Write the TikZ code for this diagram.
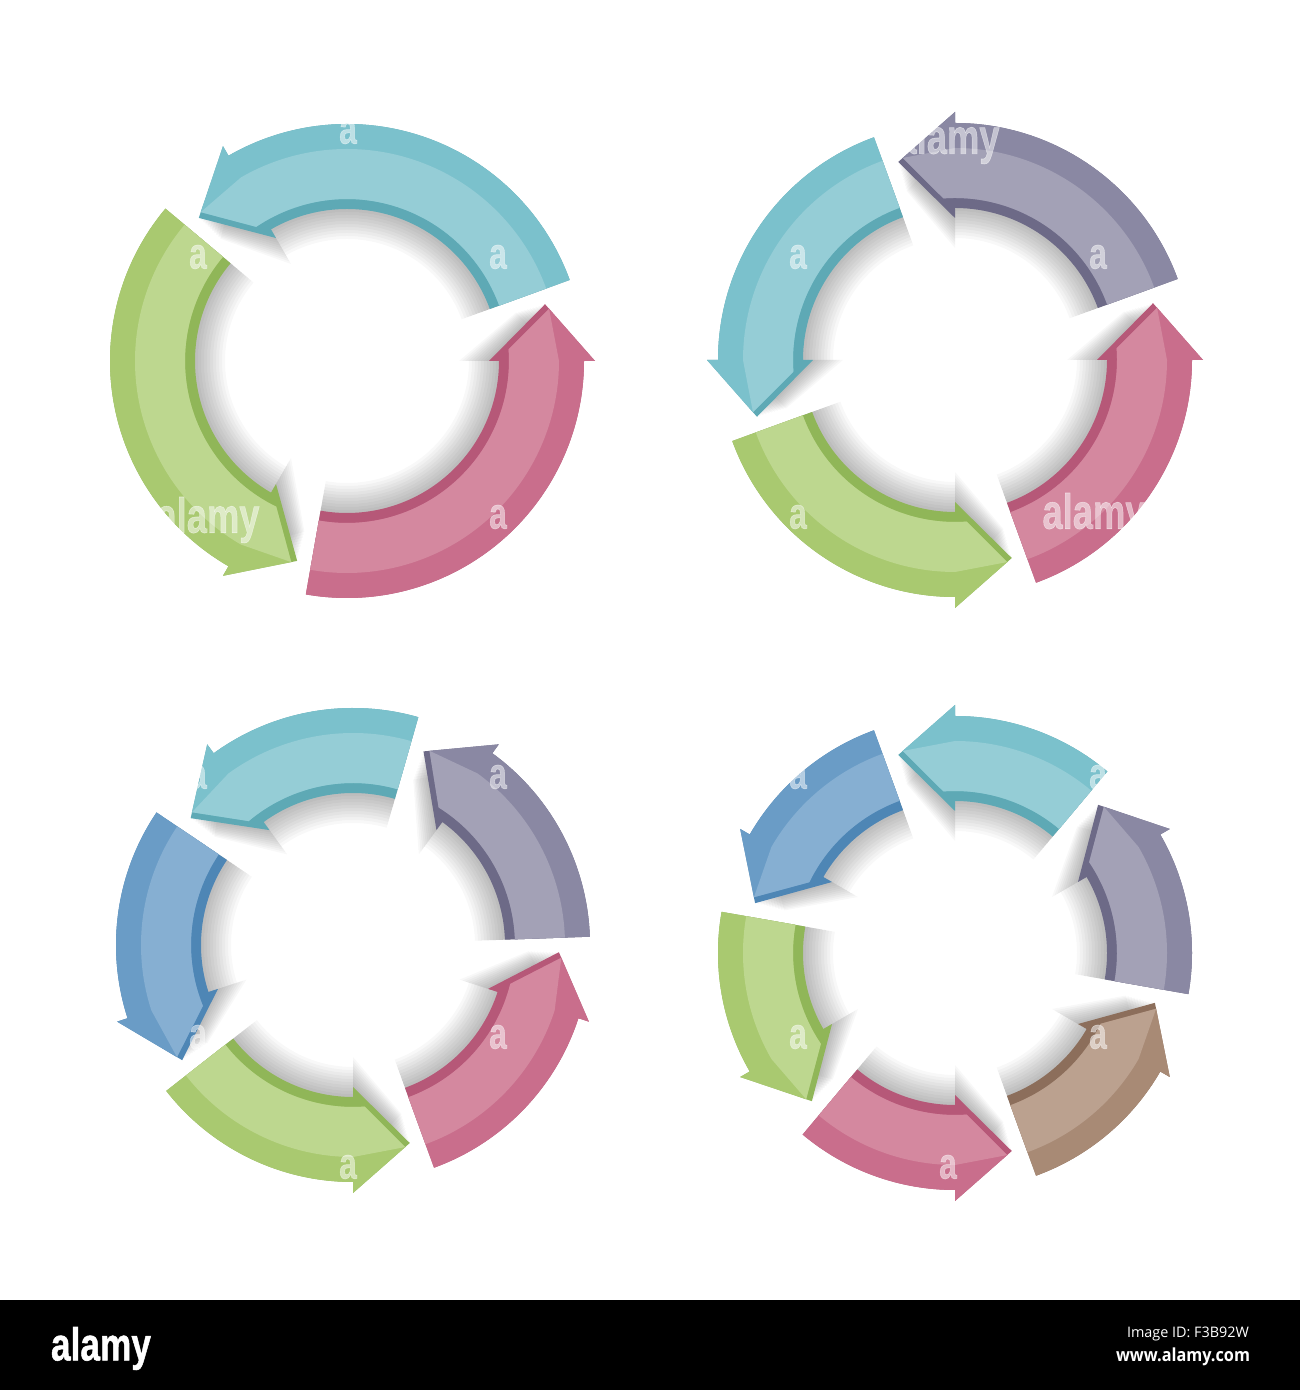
\documentclass[tikz,border=0pt]{standalone}
\usepackage{fontspec}
\setmainfont{Liberation Sans}
\newfontfamily\osans{Open Sans}
\newfontfamily\heavy[UprightFont={* Bold},FakeBold=1.2]{Liberation Sans}
\usepackage{graphicx}
\definecolor{cyS}{HTML}{5EA9B5}
\definecolor{cyB}{HTML}{7BC1CC}
\definecolor{cyL}{HTML}{95CDD6}
\definecolor{pkS}{HTML}{B65878}
\definecolor{pkB}{HTML}{C96E8C}
\definecolor{pkL}{HTML}{D4889F}
\definecolor{grS}{HTML}{90B658}
\definecolor{grB}{HTML}{A9C970}
\definecolor{grL}{HTML}{BDD78F}
\definecolor{puS}{HTML}{6D6A87}
\definecolor{puB}{HTML}{8A88A3}
\definecolor{puL}{HTML}{A3A1B6}
\definecolor{blS}{HTML}{4E86B5}
\definecolor{blB}{HTML}{6A9CC6}
\definecolor{blL}{HTML}{86AFD2}
\definecolor{brS}{HTML}{8C6E5B}
\definecolor{brB}{HTML}{A88A75}
\definecolor{brL}{HTML}{BBA18F}
\def\rIn{152}\def\rOut{237}\def\rIb{142}\def\rOb{248}\def\rTip{206}\def\rBand{212}\def\rFace{162}
% soft shadow cast toward the centre
\newcommand\ringshadow[3]{%
 \begin{scope}[shift={#1}]
 \foreach \k in {1,...,10}{%
  \fill[black,fill opacity=0.028] ({#2}:{\rOut-3*\k}) arc[start angle={#2},end angle={#3},radius={\rOut-3*\k}]
   -- ({#3}:{\rOb-3*\k}) -- ({#3+16}:{\rTip-3*\k}) -- ({#3}:{\rIb-3*\k}) -- ({#3}:{\rIn-3*\k})
   arc[start angle={#3},end angle={#2},radius={\rIn-3*\k}] -- cycle;}
 \end{scope}}
% curved 3D arrow: centre, tail angle, head base angle, colour prefix
\newcommand\ringarrow[4]{%
 \begin{scope}[shift={#1}]
  \fill[#4S] ({#2}:\rOut) arc[start angle={#2},end angle={#3},radius=\rOut] -- ({#3}:\rOb)
   -- ({#3+16}:\rTip) -- ({#3}:\rIb) -- ({#3}:\rIn) arc[start angle={#3},end angle={#2},radius=\rIn] -- cycle;
  \fill[#4B] ({#2}:\rOut) arc[start angle={#2},end angle={#3},radius=\rOut] -- ({#3}:\rOb)
   -- ({#3+14.5}:208.7) -- ({#3+4.1}:\rFace)
   arc[start angle={#3+4.1},end angle={#2},radius=\rFace] -- cycle;
  \fill[#4L] ({#2}:\rBand) arc[start angle={#2},end angle={#3},radius=\rBand]
   -- ({#3+14.5}:208.7) -- ({#3+4.1}:\rFace)
   arc[start angle={#3+4.1},end angle={#2},radius=\rFace] -- cycle;
 \end{scope}}
\newcommand\wma{\scalebox{0.72}[1]{a}}
\begin{document}
\begin{tikzpicture}[x=1pt,y=1pt,
  wm/.style={text=white,text opacity=0.5,inner sep=0pt,font=\heavy\fontsize{44}{44}\selectfont},
  wmlogo/.style={text=white,text opacity=0.5,inner sep=0pt,font=\heavy},
  bartext/.style={text=white,inner sep=0pt}]
\useasboundingbox (0,0) rectangle (1300,1390);
\fill[white] (0,0) rectangle (1300,1390);
% ---- diagram 1 (three arrows)
\ringshadow{(347,1029)}{20}{120}
\ringshadow{(347,1029)}{140}{240}
\ringshadow{(347,1029)}{260}{360}
\ringarrow{(347,1029)}{20}{120}{cy}
\ringarrow{(347,1029)}{140}{240}{gr}
\ringarrow{(347,1029)}{260}{360}{pk}
% ---- diagram 2 (four arrows)
\ringshadow{(955,1030)}{20}{90}
\ringshadow{(955,1030)}{110}{180}
\ringshadow{(955,1030)}{200}{270}
\ringshadow{(955,1030)}{290}{360}
\ringarrow{(955,1030)}{20}{90}{pu}
\ringarrow{(955,1030)}{110}{180}{cy}
\ringarrow{(955,1030)}{200}{270}{gr}
\ringarrow{(955,1030)}{290}{360}{pk}
% ---- diagram 3 (five arrows)
\ringshadow{(353,445)}{2}{54}
\ringshadow{(353,445)}{74}{126}
\ringshadow{(353,445)}{146}{198}
\ringshadow{(353,445)}{218}{270}
\ringshadow{(353,445)}{290}{342}
\ringarrow{(353,445)}{2}{54}{pu}
\ringarrow{(353,445)}{74}{126}{cy}
\ringarrow{(353,445)}{146}{198}{bl}
\ringarrow{(353,445)}{218}{270}{gr}
\ringarrow{(353,445)}{290}{342}{pk}
% ---- diagram 4 (six arrows)
\ringshadow{(955,437)}{-10}{30}
\ringshadow{(955,437)}{50}{90}
\ringshadow{(955,437)}{110}{150}
\ringshadow{(955,437)}{170}{210}
\ringshadow{(955,437)}{230}{270}
\ringshadow{(955,437)}{290}{330}
\ringarrow{(955,437)}{-10}{30}{pu}
\ringarrow{(955,437)}{50}{90}{cy}
\ringarrow{(955,437)}{110}{150}{bl}
\ringarrow{(955,437)}{170}{210}{gr}
\ringarrow{(955,437)}{230}{270}{pk}
\ringarrow{(955,437)}{290}{330}{br}
% ---- watermarks
\node[wm] (wa1) at (348,1258) {\wma};
\node[wm] (wa2) at (198,1133) {\wma};
\node[wm] (wa3) at (498,1133) {\wma};
\node[wm] (wa4) at (498,873) {\wma};
\node[wm] (wa5) at (798,1133) {\wma};
\node[wm] (wa6) at (1098,1133) {\wma};
\node[wm] (wa7) at (798,873) {\wma};
\node[wm] (wa8) at (198,613) {\wma};
\node[wm] (wa9) at (498,613) {\wma};
\node[wm] (wa10) at (198,353) {\wma};
\node[wm] (wa11) at (498,353) {\wma};
\node[wm] (wa12) at (348,223) {\wma};
\node[wm] (wa13) at (798,613) {\wma};
\node[wm] (wa14) at (1098,613) {\wma};
\node[wm] (wa15) at (798,353) {\wma};
\node[wm] (wa16) at (1098,353) {\wma};
\node[wm] (wa17) at (948,223) {\wma};
\node[wmlogo] (wl1) at (208,870) {\resizebox*{103pt}{46pt}{alamy}};
\node[wmlogo] (wl2) at (1094,874) {\resizebox*{103pt}{46pt}{alamy}};
\node[wmlogo] (wl3) at (948,1249) {\resizebox*{103pt}{46pt}{alamy}};
% ---- bottom bar
\fill[black] (0,0) rectangle (1300,90);
\node[bartext,font=\heavy] (logo) at (101,41.5) {\resizebox*{100pt}{43pt}{alamy}};
\node[bartext,font=\osans] (imgid) at (1188,56) {\resizebox*{122pt}{14pt}{Image ID: F3B92W}};
\node[bartext,font=\osans\bfseries] (url) at (1183,33) {\resizebox*{134pt}{18pt}{www.alamy.com}};
\end{tikzpicture}
\end{document}
